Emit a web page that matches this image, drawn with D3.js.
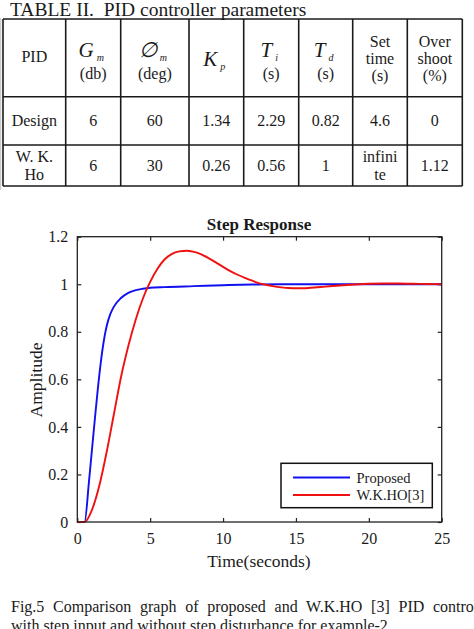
<!DOCTYPE html>
<html><head><meta charset="utf-8">
<script src="https://cdn.jsdelivr.net/npm/d3@7"></script>
<style>
html,body{margin:0;padding:0;background:#fff;}
svg{display:block;}
svg text{font-family:"Liberation Serif","Times New Roman",serif;}
</style></head>
<body>
<svg id="c" width="474" height="629"></svg>
<script>
// ---------- data ----------
const tableTitle = "TABLE II.  PID controller parameters";
const tableRowNames = [["Design"], ["W. K.", "Ho"]];
const gmValues = ["6", "6"];
const phimValues = ["60", "30"];
const kpValues = ["1.34", "0.26"];
const tiValues = ["2.29", "0.56"];
const tdValues = ["0.82", "1"];
const setTimeValues = [["4.6"], ["infini", "te"]];
const overshootValues = ["0", "1.12"];

const chartTitle = "Step Response";
const xLabel = "Time(seconds)";
const yLabel = "Amplitude";
const xTicks = [0, 5, 10, 15, 20, 25];
const yTicks = [0, 0.2, 0.4, 0.6, 0.8, 1, 1.2];
const seriesNames = ["Proposed", "W.K.HO[3]"];

const proposedT = [0, 0.5, 0.8, 1.0, 1.2, 1.4, 1.6, 1.8, 2.0, 2.25, 2.5, 3.0, 3.5, 4.0, 4.5, 5.0, 6, 8, 10, 12, 14, 18, 25];
const proposedY = [0, 0, 0.17, 0.3, 0.43, 0.555, 0.665, 0.755, 0.82, 0.872, 0.905, 0.942, 0.964, 0.975, 0.981, 0.985, 0.988, 0.992, 0.996, 0.999, 1.0, 1.0, 1.0];

const wkhoT = [0, 0.5, 1.0, 1.5, 2.0, 2.5, 3.0, 3.5, 4.0, 4.5, 5.0, 5.5, 6.0, 6.5, 7.0, 7.5, 8.0, 8.5, 9.0, 9.5, 10, 10.5, 11, 11.5, 12, 12.5, 13, 13.5, 14, 14.5, 15, 15.5, 16, 17, 18, 19, 20, 21, 22, 23, 24, 25];
const wkhoY = [0, 0, 0.05, 0.15, 0.29, 0.45, 0.61, 0.74, 0.85, 0.94, 1.01, 1.065, 1.105, 1.128, 1.138, 1.141, 1.136, 1.126, 1.11, 1.092, 1.073, 1.055, 1.04, 1.027, 1.015, 1.004, 0.997, 0.991, 0.987, 0.984, 0.983, 0.983, 0.985, 0.99, 0.995, 0.999, 1.002, 1.003, 1.003, 1.002, 1.001, 1.0];

const captionLine1 = "Fig.5 Comparison graph of proposed and W.K.HO [3] PID controller";
const captionLine2 = "with step input and without step disturbance for example-2";

// ---------- drawing ----------
const FONT = "Liberation Serif";
const svg = d3.select("#c");
const ink = "#1a1a1a";

// ===== Table =====
svg.append("text").attr("x", 10).attr("y", 16).attr("font-family", FONT).attr("font-size", 19.5).attr("fill", ink)
  .attr("xml:space", "preserve").style("white-space", "pre").text(tableTitle);

svg.append("line").attr("x1", 0.5).attr("x2", 0.5).attr("y1", 18).attr("y2", 190)
  .attr("stroke", "#ccc").attr("stroke-width", 1.5);

const colX = [3, 65.7, 120.7, 189, 243.7, 298.7, 352.7, 407.3, 462.3];
const rowY = [19, 96.7, 145, 186];
const tg = svg.append("g");
colX.forEach(x => tg.append("line").attr("x1", x).attr("x2", x).attr("y1", rowY[0]).attr("y2", rowY[3])
  .attr("stroke", ink).attr("stroke-width", 1.6));
rowY.forEach(y => tg.append("line").attr("x1", colX[0]).attr("x2", colX[8]).attr("y1", y).attr("y2", y)
  .attr("stroke", ink).attr("stroke-width", 1.6));
const cx = i => (colX[i] + colX[i + 1]) / 2;
const CF = 16;

function cellText(i, y, txt, size) {
  return tg.append("text").attr("x", cx(i)).attr("y", y).attr("text-anchor", "middle")
    .attr("font-family", FONT).attr("font-size", size).attr("fill", ink).text(txt);
}
function symHeader(i, main, sub, yMain, size, unit) {
  const t = tg.append("text").attr("x", cx(i) - 2).attr("y", yMain).attr("text-anchor", "middle")
    .attr("font-family", FONT).attr("fill", ink);
  t.append("tspan").attr("font-size", size).attr("font-style", "italic").text(main);
  t.append("tspan").attr("font-size", 10).attr("font-style", "italic").attr("dx", 3).attr("dy", 4).text(sub);
  if (unit) cellText(i, 79, unit, CF);
}
// header
cellText(0, 62, "PID", CF);
symHeader(1, "G", "m", 57, 21, "(db)");
symHeader(2, "\u2205", "m", 57, 21, "(deg)");
symHeader(3, "K", "p", 66, 21, null);
symHeader(4, "T", "i", 57, 21, "(s)");
symHeader(5, "T", "d", 57, 21, "(s)");
cellText(6, 47, "Set", CF); cellText(6, 63.5, "time", CF); cellText(6, 81, "(s)", CF);
cellText(7, 47, "Over", CF); cellText(7, 63.5, "shoot", CF); cellText(7, 81, "(%)", CF);

// body rows
const rowCenters = [120.8, 165.5];
[0, 1].forEach(r => {
  const base = rowCenters[r] + 5.5;
  const names = tableRowNames[r];
  if (names.length === 1) cellText(0, base, names[0], CF);
  else { cellText(0, base - 9, names[0], CF); cellText(0, base + 9, names[1], CF); }
  cellText(1, base, gmValues[r], CF);
  cellText(2, base, phimValues[r], CF);
  cellText(3, base, kpValues[r], CF);
  cellText(4, base, tiValues[r], CF);
  cellText(5, base, tdValues[r], CF);
  const st = setTimeValues[r];
  if (st.length === 1) cellText(6, base, st[0], CF);
  else { cellText(6, base - 9, st[0], CF); cellText(6, base + 9, st[1], CF); }
  cellText(7, base, overshootValues[r], CF);
});

// ===== Chart =====
const x = d3.scaleLinear().domain([0, 25]).range([77.3, 441.7]);
const y = d3.scaleLinear().domain([0, 1.2]).range([522, 236.7]);

const axFont = 16;
const gx = svg.append("g").attr("transform", `translate(0,${y(0)})`)
  .call(d3.axisBottom(x).tickValues(xTicks).tickFormat(d3.format("d")).tickSizeInner(-4).tickSizeOuter(0).tickPadding(11));
const gxTop = svg.append("g").attr("transform", `translate(0,${y(1.2)})`)
  .call(d3.axisTop(x).tickValues(xTicks).tickFormat("").tickSizeInner(-4).tickSizeOuter(0));
const gy = svg.append("g").attr("transform", `translate(${x(0)},0)`)
  .call(d3.axisLeft(y).tickValues(yTicks).tickFormat(d => d === 0 || d === 1 ? d3.format("d")(d) : d3.format(".1f")(d))
    .tickSizeInner(-4).tickSizeOuter(0).tickPadding(9));
const gyR = svg.append("g").attr("transform", `translate(${x(25)},0)`)
  .call(d3.axisRight(y).tickValues(yTicks).tickFormat("").tickSizeInner(-4).tickSizeOuter(0));
[gx, gxTop, gy, gyR].forEach(g => {
  g.attr("font-family", FONT).attr("font-size", axFont);
  g.select(".domain").remove();
  g.selectAll("line").attr("stroke", "#222").attr("stroke-width", 1.2);
  g.selectAll("text").attr("font-family", FONT).attr("font-size", axFont).attr("fill", ink);
});

// curves
const line = d3.line().x(d => x(d[0])).y(d => y(d[1])).curve(d3.curveMonotoneX);
const propData = proposedT.map((t, i) => [t, proposedY[i]]);
const wkData = wkhoT.map((t, i) => [t, wkhoY[i]]);
const plot = svg.append("g");
plot.append("path").datum(propData).attr("d", line).attr("fill", "none").attr("stroke", "#1010f0").attr("stroke-width", 1.9);
plot.append("path").datum(wkData).attr("d", line).attr("fill", "none").attr("stroke", "#f01010").attr("stroke-width", 1.9);

// frame
svg.append("rect").attr("x", x(0)).attr("y", y(1.2)).attr("width", x(25) - x(0)).attr("height", y(0) - y(1.2))
  .attr("fill", "none").attr("stroke", "#222").attr("stroke-width", 1.3);

// titles
svg.append("text").attr("x", 259).attr("y", 229.5).attr("text-anchor", "middle").attr("font-family", FONT).attr("font-size", 17)
  .attr("font-weight", "bold").attr("fill", ink).text(chartTitle);
svg.append("text").attr("x", 259).attr("y", 567).attr("text-anchor", "middle").attr("font-family", FONT).attr("font-size", 17.5)
  .attr("fill", ink).text(xLabel);
svg.append("text").attr("transform", `translate(41.5,${380}) rotate(-90)`).attr("text-anchor", "middle")
  .attr("font-family", FONT).attr("font-size", 17.5).attr("fill", ink).text(yLabel);

// legend
const lg = svg.append("g");
lg.append("rect").attr("x", 281).attr("y", 463.3).attr("width", 151.3).attr("height", 44.4)
  .attr("fill", "#fff").attr("stroke", "#111").attr("stroke-width", 1.5);
const legColors = ["#1010f0", "#f01010"];
const legY = [477.5, 495];
seriesNames.forEach((n, i) => {
  lg.append("line").attr("x1", 293).attr("x2", 350).attr("y1", legY[i]).attr("y2", legY[i])
    .attr("stroke", legColors[i]).attr("stroke-width", 1.9);
  lg.append("text").attr("x", 356.5).attr("y", legY[i] + 5).attr("font-family", FONT).attr("font-size", 14.5).attr("fill", ink).text(n);
});

// caption (justified first line, runs past the right edge as in the source page)
const cap1 = svg.append("text").attr("x", 11).attr("y", 612).attr("font-family", FONT).attr("font-size", 16).attr("fill", ink).text(captionLine1);
const probe = svg.append("text").attr("font-family", FONT).attr("font-size", 16).attr("xml:space", "preserve")
  .style("white-space", "pre").text("Fig.5 Comparison graph of proposed and W.K.HO [3] PID ");
const natural = probe.node().getComputedTextLength();
probe.remove();
cap1.attr("word-spacing", (433 - 11 - natural) / 9);
svg.append("text").attr("x", 11).attr("y", 631).attr("font-family", FONT).attr("font-size", 16).attr("fill", ink).text(captionLine2);
</script>
</body></html>
